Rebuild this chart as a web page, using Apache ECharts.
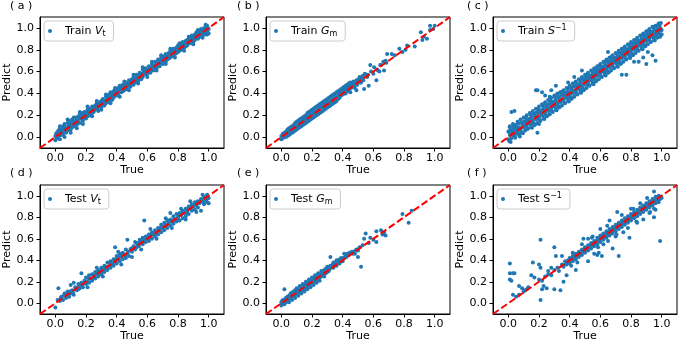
<!DOCTYPE html>
<html>
<head>
<meta charset="utf-8">
<script src="https://cdn.jsdelivr.net/npm/echarts@6/dist/echarts.min.js"></script>
<style>
  html, body { margin: 0; padding: 0; background: #fff; }
  #chart { width: 685px; height: 343px; }
</style>
</head>
<body>
<div id="chart"></div>
<script>
// read-off points: [true, predict]
const trainVt = [
  [0.00,0.01],[0.00,-0.03],[0.01,0.04],[0.01,-0.01],[0.02,0.06],[0.02,0.01],[0.03,-0.02],[0.03,0.08],[0.04,0.03],[0.04,0.06],
  [0.05,0.10],[0.05,0.02],[0.06,0.05],[0.06,0.12],[0.07,0.04],[0.07,0.09],[0.08,0.13],[0.08,0.06],[0.09,0.10],[0.09,0.15],
  [0.10,0.07],[0.10,0.12],[0.11,0.16],[0.11,0.09],[0.12,0.14],[0.12,0.10],[0.13,0.18],[0.13,0.12],[0.14,0.15],[0.14,0.11],
  [0.15,0.19],[0.15,0.14],[0.16,0.22],[0.16,0.13],[0.17,0.17],[0.17,0.20],[0.18,0.15],[0.18,0.22],[0.19,0.18],[0.19,0.23],
  [0.20,0.17],[0.20,0.21],[0.21,0.25],[0.21,0.19],[0.22,0.22],[0.22,0.26],[0.23,0.20],[0.23,0.24],[0.24,0.28],[0.24,0.22],
  [0.25,0.26],[0.25,0.23],[0.26,0.29],[0.26,0.25],[0.27,0.31],[0.27,0.26],[0.28,0.29],[0.28,0.24],[0.29,0.32],[0.29,0.28],
  [0.30,0.33],[0.30,0.27],[0.31,0.30],[0.31,0.35],[0.32,0.29],[0.32,0.33],[0.33,0.37],[0.33,0.31],[0.34,0.35],[0.34,0.32],
  [0.35,0.39],[0.35,0.34],[0.36,0.37],[0.36,0.41],[0.37,0.34],[0.37,0.38],[0.38,0.42],[0.38,0.36],[0.39,0.40],[0.39,0.44],
  [0.40,0.38],[0.40,0.42],[0.41,0.45],[0.41,0.39],[0.42,0.43],[0.42,0.47],[0.43,0.41],[0.43,0.45],[0.44,0.48],[0.44,0.42],
  [0.45,0.46],[0.45,0.43],[0.46,0.50],[0.46,0.45],[0.47,0.49],[0.47,0.44],[0.48,0.52],[0.48,0.47],[0.49,0.50],[0.49,0.46],
  [0.50,0.53],[0.50,0.49],[0.51,0.55],[0.51,0.48],[0.52,0.53],[0.52,0.50],[0.53,0.57],[0.53,0.52],[0.54,0.55],[0.54,0.51],
  [0.55,0.59],[0.55,0.54],[0.56,0.58],[0.56,0.53],[0.57,0.64],[0.57,0.55],[0.58,0.60],[0.58,0.62],[0.59,0.57],[0.59,0.63],
  [0.60,0.61],[0.60,0.58],[0.61,0.65],[0.61,0.60],[0.62,0.63],[0.62,0.59],[0.63,0.67],[0.63,0.62],[0.64,0.65],[0.64,0.61],
  [0.65,0.69],[0.65,0.64],[0.66,0.67],[0.66,0.63],[0.67,0.71],[0.67,0.66],[0.68,0.69],[0.68,0.65],[0.69,0.73],[0.69,0.68],
  [0.70,0.71],[0.70,0.67],[0.71,0.74],[0.71,0.70],[0.72,0.76],[0.72,0.69],[0.73,0.74],[0.73,0.71],[0.74,0.77],[0.74,0.72],
  [0.75,0.79],[0.75,0.73],[0.76,0.77],[0.76,0.74],[0.77,0.81],[0.77,0.75],[0.78,0.79],[0.78,0.76],[0.79,0.82],[0.79,0.77],
  [0.80,0.84],[0.80,0.78],[0.81,0.82],[0.81,0.79],[0.82,0.85],[0.82,0.80],[0.83,0.87],[0.83,0.81],[0.84,0.85],[0.84,0.82],
  [0.85,0.88],[0.85,0.83],[0.86,0.89],[0.86,0.84],[0.87,0.86],[0.87,0.90],[0.88,0.92],[0.88,0.86],[0.89,0.88],[0.89,0.93],
  [0.90,0.87],[0.90,0.91],[0.91,0.94],[0.91,0.89],[0.92,0.91],[0.92,0.96],[0.93,0.90],[0.93,0.94],[0.94,0.97],[0.94,0.92],
  [0.95,0.95],[0.95,0.99],[0.96,0.93],[0.96,0.97],[0.97,1.00],[0.97,0.95],[0.98,0.98],[0.98,0.94],[0.99,1.02],[0.99,0.97],
  [1.00,0.99],[1.00,0.95]
];
const trainVtCore = [
  [0.005,0.03],[0.015,0.00],[0.025,0.05],[0.035,0.02],[0.045,0.04],[0.055,0.08],[0.065,0.07],[0.075,0.06],[0.085,0.10],[0.095,0.09],
  [0.105,0.13],[0.115,0.12],[0.125,0.11],[0.135,0.15],[0.145,0.13],[0.155,0.17],[0.165,0.18],[0.175,0.16],[0.185,0.20],[0.195,0.19],
  [0.205,0.23],[0.215,0.21],[0.225,0.20],[0.235,0.25],[0.245,0.24],[0.255,0.27],[0.265,0.28],[0.275,0.26],[0.285,0.30],[0.295,0.29],
  [0.305,0.31],[0.315,0.33],[0.325,0.31],[0.335,0.34],[0.345,0.37],[0.355,0.36],[0.365,0.35],[0.375,0.39],[0.385,0.40],[0.395,0.38],
  [0.405,0.40],[0.415,0.43],[0.425,0.44],[0.435,0.42],[0.445,0.46],[0.455,0.47],[0.465,0.44],[0.475,0.48],[0.485,0.50],[0.495,0.49],
  [0.505,0.51],[0.515,0.52],[0.525,0.54],[0.535,0.53],[0.545,0.56],[0.555,0.57],[0.565,0.56],[0.575,0.59],[0.585,0.60],[0.595,0.60],
  [0.605,0.62],[0.615,0.62],[0.625,0.61],[0.635,0.65],[0.645,0.63],[0.655,0.66],[0.665,0.68],[0.675,0.67],[0.685,0.70],[0.695,0.70],
  [0.705,0.72],[0.715,0.73],[0.725,0.71],[0.735,0.75],[0.745,0.75],[0.755,0.76],[0.765,0.78],[0.775,0.78],[0.785,0.77],[0.795,0.80],
  [0.805,0.81],[0.815,0.80],[0.825,0.83],[0.835,0.84],[0.845,0.86],[0.855,0.85],[0.865,0.87],[0.875,0.88],[0.885,0.90],[0.895,0.89],
  [0.905,0.92],[0.915,0.93],[0.925,0.92],[0.935,0.95],[0.945,0.95],[0.955,0.96],[0.965,0.98],[0.975,0.97],[0.985,0.99],[0.995,1.00]
];
const trainVtEdge = [
  [0.03,0.10],[0.06,0.00],[0.08,0.16],[0.10,0.04],[0.12,0.18],[0.14,0.08],[0.16,0.23],[0.18,0.12],[0.21,0.28],[0.24,0.19],
  [0.27,0.33],[0.30,0.25],[0.33,0.39],[0.36,0.31],[0.39,0.45],[0.42,0.37],[0.45,0.51],[0.48,0.43],[0.51,0.57],[0.54,0.49],
  [0.57,0.62],[0.60,0.55],[0.63,0.69],[0.66,0.61],[0.69,0.75],[0.72,0.67],[0.75,0.81],[0.78,0.73],[0.81,0.86],[0.84,0.79],
  [0.87,0.92],[0.90,0.85],[0.93,0.98],[0.96,0.91],[0.99,0.94],[0.98,1.03]
];

const trainGm = [
  [0.00,0.01],[0.00,-0.02],[0.01,0.03],[0.01,0.00],[0.01,-0.01],[0.02,0.04],[0.02,0.01],[0.02,0.02],[0.03,0.05],[0.03,0.00],
  [0.03,0.03],[0.04,0.07],[0.04,0.01],[0.04,0.04],[0.05,0.08],[0.05,0.02],[0.05,0.05],[0.06,0.09],[0.06,0.03],[0.06,0.06],
  [0.07,0.10],[0.07,0.04],[0.07,0.07],[0.08,0.11],[0.08,0.05],[0.08,0.08],[0.09,0.13],[0.09,0.06],[0.09,0.09],[0.10,0.14],
  [0.10,0.07],[0.10,0.10],[0.11,0.15],[0.11,0.08],[0.11,0.11],[0.12,0.16],[0.12,0.09],[0.12,0.13],[0.13,0.17],[0.13,0.10],
  [0.13,0.14],[0.14,0.18],[0.14,0.11],[0.14,0.15],[0.15,0.19],[0.15,0.12],[0.15,0.16],[0.16,0.20],[0.16,0.13],[0.16,0.17],
  [0.17,0.22],[0.17,0.14],[0.17,0.18],[0.18,0.23],[0.18,0.15],[0.18,0.19],[0.19,0.24],[0.19,0.16],[0.19,0.20],[0.20,0.25],
  [0.20,0.17],[0.20,0.21],[0.21,0.26],[0.21,0.18],[0.21,0.22],[0.22,0.27],[0.22,0.19],[0.22,0.23],[0.23,0.28],[0.23,0.20],
  [0.23,0.24],[0.24,0.29],[0.24,0.21],[0.24,0.25],[0.25,0.30],[0.25,0.22],[0.25,0.26],[0.26,0.31],[0.26,0.23],[0.26,0.27],
  [0.27,0.32],[0.27,0.24],[0.27,0.28],[0.28,0.33],[0.28,0.25],[0.28,0.29],[0.29,0.34],[0.29,0.26],[0.29,0.30],[0.30,0.35],
  [0.30,0.27],[0.30,0.31],[0.31,0.36],[0.31,0.28],[0.31,0.32],[0.32,0.37],[0.32,0.29],[0.32,0.33],[0.33,0.38],[0.33,0.30],
  [0.33,0.34],[0.34,0.39],[0.34,0.31],[0.34,0.35],[0.35,0.40],[0.35,0.32],[0.35,0.36],[0.36,0.41],[0.36,0.33],[0.36,0.37],
  [0.37,0.42],[0.37,0.35],[0.38,0.43],[0.38,0.36],[0.39,0.44],[0.39,0.38],[0.40,0.45],[0.40,0.39],[0.41,0.46],[0.41,0.40],
  [0.42,0.47],[0.42,0.40],[0.43,0.48],[0.43,0.42],[0.44,0.49],[0.44,0.43],[0.45,0.50],[0.45,0.41],[0.46,0.47],[0.47,0.51],
  [0.48,0.45],[0.49,0.52],[0.49,0.43],[0.50,0.51],[0.51,0.55],[0.52,0.50],[0.53,0.56],[0.54,0.44],[0.55,0.57],[0.56,0.55],
  [0.57,0.47],[0.58,0.66],[0.60,0.58],[0.62,0.52],[0.63,0.61],[0.64,0.60],[0.65,0.66],[0.67,0.61],[0.68,0.70],[0.69,0.76],
  [0.72,0.76],[0.74,0.75],[0.77,0.81],[0.79,0.78],[0.81,0.80],[0.82,0.84],[0.87,0.83],[0.91,0.96],[0.92,0.89],[0.93,0.92],
  [0.95,0.90],[0.97,0.98],[0.97,1.02],[1.00,1.02],[0.99,0.99]
];
const trainGmTail = [
  [0.375,0.39],[0.385,0.40],[0.395,0.41],[0.405,0.42],[0.415,0.43],[0.425,0.44],[0.435,0.45],[0.445,0.46],[0.455,0.45],[0.465,0.49],
  [0.475,0.47],[0.485,0.50],[0.495,0.48],[0.505,0.53],[0.515,0.50],[0.525,0.54],[0.535,0.52],[0.545,0.58],[0.565,0.57],[0.585,0.60],
  [0.605,0.64],[0.625,0.62],[0.645,0.66],[0.665,0.69],[0.685,0.68]
];

const trainS = [
  [0.00,0.05],[0.00,-0.02],[0.01,0.10],[0.01,0.02],[0.02,0.06],[0.02,-0.01],[0.03,0.12],[0.03,0.04],[0.04,0.08],[0.04,0.01],
  [0.05,0.11],[0.05,0.03],[0.06,0.14],[0.06,0.06],[0.07,0.09],[0.07,0.02],[0.08,0.16],[0.08,0.07],[0.09,0.12],[0.09,0.04],
  [0.10,0.18],[0.10,0.09],[0.11,0.14],[0.11,0.06],[0.12,0.20],[0.12,0.11],[0.13,0.16],[0.13,0.08],[0.14,0.22],[0.14,0.13],
  [0.15,0.18],[0.15,0.09],[0.16,0.24],[0.16,0.14],[0.17,0.20],[0.17,0.11],[0.18,0.26],[0.18,0.16],[0.19,0.22],[0.19,0.13],
  [0.20,0.28],[0.20,0.18],[0.21,0.24],[0.21,0.15],[0.22,0.30],[0.22,0.20],[0.23,0.26],[0.23,0.17],[0.24,0.32],[0.24,0.22],
  [0.25,0.28],[0.25,0.19],[0.26,0.34],[0.26,0.24],[0.27,0.30],[0.27,0.21],[0.28,0.36],[0.28,0.26],[0.29,0.32],[0.29,0.23],
  [0.30,0.38],[0.30,0.28],[0.31,0.34],[0.31,0.25],[0.32,0.40],[0.32,0.30],[0.33,0.36],[0.33,0.27],[0.34,0.41],[0.34,0.32],
  [0.35,0.38],[0.35,0.29],[0.36,0.43],[0.36,0.34],[0.37,0.40],[0.37,0.31],[0.38,0.45],[0.38,0.36],[0.39,0.42],[0.39,0.33],
  [0.40,0.47],[0.40,0.38],[0.41,0.44],[0.41,0.35],[0.42,0.49],[0.42,0.40],[0.43,0.46],[0.43,0.37],[0.44,0.51],[0.44,0.42],
  [0.45,0.48],[0.45,0.39],[0.46,0.53],[0.46,0.44],[0.47,0.50],[0.47,0.41],[0.48,0.55],[0.48,0.46],[0.49,0.52],[0.49,0.43],
  [0.50,0.57],[0.50,0.48],[0.50,0.52],[0.51,0.54],[0.51,0.45],[0.52,0.59],[0.52,0.50],[0.52,0.53],[0.53,0.56],[0.53,0.47],
  [0.54,0.61],[0.54,0.52],[0.54,0.55],[0.55,0.58],[0.55,0.49],[0.56,0.63],[0.56,0.54],[0.56,0.57],[0.57,0.60],[0.57,0.51],
  [0.58,0.65],[0.58,0.56],[0.58,0.59],[0.59,0.62],[0.59,0.53],[0.60,0.67],[0.60,0.58],[0.60,0.61],[0.61,0.64],[0.61,0.55],
  [0.62,0.69],[0.62,0.60],[0.62,0.63],[0.63,0.66],[0.63,0.57],[0.64,0.71],[0.64,0.62],[0.64,0.65],[0.65,0.68],[0.65,0.59],
  [0.66,0.73],[0.66,0.64],[0.66,0.67],[0.67,0.70],[0.67,0.61],[0.68,0.75],[0.68,0.66],[0.68,0.69],[0.69,0.72],[0.69,0.63],
  [0.70,0.77],[0.70,0.68],[0.70,0.71],[0.71,0.74],[0.71,0.65],[0.72,0.79],[0.72,0.70],[0.72,0.73],[0.73,0.76],[0.73,0.67],
  [0.74,0.81],[0.74,0.72],[0.74,0.75],[0.75,0.78],[0.75,0.69],[0.76,0.83],[0.76,0.74],[0.76,0.77],[0.77,0.80],[0.77,0.71],
  [0.78,0.85],[0.78,0.76],[0.78,0.79],[0.79,0.82],[0.79,0.73],[0.80,0.87],[0.80,0.78],[0.80,0.81],[0.81,0.84],[0.81,0.75],
  [0.82,0.89],[0.82,0.80],[0.82,0.83],[0.83,0.86],[0.83,0.77],[0.84,0.91],[0.84,0.82],[0.84,0.85],[0.85,0.88],[0.85,0.79],
  [0.86,0.93],[0.86,0.84],[0.86,0.87],[0.87,0.90],[0.87,0.81],[0.88,0.95],[0.88,0.86],[0.88,0.89],[0.89,0.92],[0.89,0.83],
  [0.90,0.97],[0.90,0.88],[0.90,0.91],[0.91,0.94],[0.91,0.85],[0.92,0.99],[0.92,0.90],[0.92,0.93],[0.93,0.96],[0.93,0.87],
  [0.94,1.01],[0.94,0.92],[0.94,0.95],[0.95,0.98],[0.95,0.89],[0.96,1.02],[0.96,0.93],[0.96,0.96],[0.97,0.99],[0.97,0.91],
  [0.98,1.04],[0.98,0.95],[0.98,0.97],[0.99,1.00],[0.99,0.92],[1.00,0.98],[1.00,0.94],
  [0.04,0.24],[0.02,0.23],[0.01,0.09],[0.19,0.04],[0.20,0.12],[0.11,0.11],[0.18,0.43],[0.19,0.43],[0.22,0.41],[0.24,0.38],
  [0.27,0.37],[0.28,0.43],[0.31,0.47],[0.34,0.41],[0.39,0.50],[0.43,0.55],[0.48,0.61],[0.65,0.78],[0.74,0.57],[0.77,0.57],
  [0.82,0.69],[0.85,0.69],[0.88,0.73],[0.90,0.67],[0.91,0.78],[0.94,0.75],[0.96,0.70]
];
const trainSCore = [
  [0.005,0.055],[0.005,-0.035],[0.015,0.025],[0.015,-0.045],[0.025,0.065],[0.025,0.025],[0.035,0.015],[0.035,0.095],[0.045,0.065],[0.045,-0.005],
  [0.055,0.045],[0.055,0.085],[0.065,0.125],[0.065,0.035],[0.075,0.075],[0.075,0.005],[0.085,0.135],[0.085,0.045],[0.095,0.105],[0.095,0.035],
  [0.105,0.145],[0.105,0.105],[0.115,0.095],[0.115,0.175],[0.125,0.145],[0.125,0.075],[0.135,0.125],[0.135,0.165],[0.145,0.205],[0.145,0.115],
  [0.155,0.155],[0.155,0.085],[0.165,0.215],[0.165,0.125],[0.175,0.185],[0.175,0.115],[0.185,0.225],[0.185,0.185],[0.195,0.175],[0.195,0.255],
  [0.205,0.225],[0.205,0.155],[0.215,0.205],[0.215,0.245],[0.225,0.285],[0.225,0.195],[0.235,0.235],[0.235,0.165],[0.245,0.295],[0.245,0.205],
  [0.255,0.265],[0.255,0.195],[0.265,0.305],[0.265,0.265],[0.275,0.255],[0.275,0.335],[0.285,0.305],[0.285,0.235],[0.295,0.285],[0.295,0.325],
  [0.305,0.365],[0.305,0.275],[0.315,0.315],[0.315,0.245],[0.325,0.375],[0.325,0.285],[0.335,0.345],[0.335,0.275],[0.345,0.385],[0.345,0.345],
  [0.355,0.335],[0.355,0.415],[0.365,0.385],[0.365,0.315],[0.375,0.365],[0.375,0.405],[0.385,0.445],[0.385,0.355],[0.395,0.395],[0.395,0.325],
  [0.405,0.455],[0.405,0.365],[0.415,0.425],[0.415,0.355],[0.425,0.465],[0.425,0.425],[0.435,0.415],[0.435,0.495],[0.445,0.465],[0.445,0.395],
  [0.455,0.445],[0.455,0.485],[0.465,0.525],[0.465,0.435],[0.475,0.475],[0.475,0.405],[0.485,0.535],[0.485,0.445],[0.495,0.505],[0.495,0.435],
  [0.505,0.545],[0.505,0.505],[0.515,0.495],[0.515,0.575],[0.525,0.545],[0.525,0.475],[0.535,0.525],[0.535,0.565],[0.545,0.605],[0.545,0.515],
  [0.555,0.555],[0.555,0.485],[0.565,0.615],[0.565,0.525],[0.575,0.585],[0.575,0.515],[0.585,0.625],[0.585,0.585],[0.595,0.575],[0.595,0.655],
  [0.605,0.625],[0.605,0.555],[0.615,0.605],[0.615,0.645],[0.625,0.685],[0.625,0.595],[0.635,0.635],[0.635,0.565],[0.645,0.695],[0.645,0.605],
  [0.655,0.665],[0.655,0.595],[0.665,0.705],[0.665,0.665],[0.675,0.655],[0.675,0.735],[0.685,0.705],[0.685,0.635],[0.695,0.685],[0.695,0.725],
  [0.705,0.765],[0.705,0.675],[0.715,0.715],[0.715,0.645],[0.725,0.775],[0.725,0.685],[0.735,0.745],[0.735,0.675],[0.745,0.785],[0.745,0.745],
  [0.755,0.735],[0.755,0.815],[0.765,0.785],[0.765,0.715],[0.775,0.765],[0.775,0.805],[0.785,0.845],[0.785,0.755],[0.795,0.795],[0.795,0.725],
  [0.805,0.855],[0.805,0.765],[0.815,0.825],[0.815,0.755],[0.825,0.865],[0.825,0.825],[0.835,0.815],[0.835,0.895],[0.845,0.865],[0.845,0.795],
  [0.855,0.845],[0.855,0.885],[0.865,0.925],[0.865,0.835],[0.875,0.875],[0.875,0.805],[0.885,0.935],[0.885,0.845],[0.895,0.905],[0.895,0.835],
  [0.905,0.945],[0.905,0.905],[0.915,0.895],[0.915,0.975],[0.925,0.945],[0.925,0.875],[0.935,0.925],[0.935,0.965],[0.945,1.005],[0.945,0.915],
  [0.955,0.955],[0.955,0.885],[0.965,1.015],[0.965,0.925],[0.975,0.985],[0.975,0.915],[0.985,1.025],[0.985,0.985],[0.995,0.975],[0.995,1.045]
];

const testVt = [
  [0.00,-0.04],[0.02,0.14],[0.03,0.02],[0.04,0.06],[0.05,0.03],[0.06,0.09],[0.07,0.05],[0.08,0.11],[0.09,0.06],[0.10,0.17],
  [0.10,0.09],[0.11,0.12],[0.12,0.08],[0.13,0.15],[0.14,0.12],[0.15,0.18],[0.15,0.13],[0.16,0.14],[0.17,0.28],[0.17,0.19],
  [0.18,0.15],[0.19,0.21],[0.20,0.18],[0.20,0.24],[0.21,0.20],[0.22,0.26],[0.22,0.19],[0.23,0.23],[0.24,0.27],[0.24,0.21],
  [0.25,0.24],[0.26,0.29],[0.26,0.23],[0.27,0.27],[0.28,0.31],[0.28,0.25],[0.29,0.28],[0.30,0.33],[0.30,0.27],[0.31,0.30],
  [0.32,0.35],[0.32,0.29],[0.33,0.32],[0.34,0.38],[0.34,0.31],[0.35,0.34],[0.36,0.39],[0.36,0.33],[0.37,0.36],[0.38,0.41],
  [0.38,0.35],[0.39,0.52],[0.39,0.39],[0.40,0.44],[0.40,0.37],[0.41,0.41],[0.42,0.46],[0.42,0.39],[0.43,0.43],[0.44,0.47],
  [0.44,0.41],[0.45,0.45],[0.46,0.50],[0.46,0.42],[0.47,0.59],[0.47,0.46],[0.48,0.44],[0.49,0.50],[0.50,0.43],[0.50,0.48],
  [0.51,0.53],[0.52,0.50],[0.53,0.56],[0.53,0.52],[0.54,0.55],[0.55,0.57],[0.55,0.59],[0.56,0.56],[0.57,0.61],[0.57,0.55],
  [0.58,0.77],[0.58,0.58],[0.59,0.62],[0.59,0.57],[0.60,0.61],[0.61,0.64],[0.61,0.58],[0.62,0.62],[0.63,0.66],[0.63,0.60],
  [0.64,0.64],[0.65,0.68],[0.65,0.62],[0.66,0.66],[0.67,0.70],[0.67,0.64],[0.68,0.68],[0.69,0.73],[0.69,0.66],[0.70,0.70],
  [0.71,0.75],[0.71,0.68],[0.72,0.72],[0.73,0.77],[0.73,0.70],[0.74,0.74],[0.75,0.84],[0.75,0.78],[0.75,0.72],[0.76,0.76],
  [0.77,0.81],[0.77,0.74],[0.78,0.78],[0.79,0.83],[0.79,0.76],[0.80,0.80],[0.81,0.84],[0.81,0.77],[0.82,0.82],[0.83,0.86],
  [0.83,0.79],[0.84,0.84],[0.85,0.88],[0.85,0.81],[0.86,0.84],[0.86,0.86],[0.87,0.90],[0.87,0.83],[0.88,0.88],[0.89,0.92],
  [0.89,0.86],[0.90,0.90],[0.91,0.94],[0.91,0.87],[0.92,0.92],[0.93,0.95],[0.93,0.89],[0.94,0.93],[0.95,0.97],[0.95,0.86],
  [0.96,0.95],[0.97,0.99],[0.97,0.92],[0.98,0.97],[0.99,1.01],[0.99,0.94],[1.00,0.93],[1.00,0.98]
];
const testVtCore = [
  [0.015,0.03],[0.035,0.05],[0.055,0.07],[0.075,0.08],[0.095,0.11],[0.115,0.10],[0.135,0.13],[0.155,0.16],[0.175,0.17],[0.195,0.19],
  [0.215,0.23],[0.235,0.22],[0.255,0.26],[0.275,0.29],[0.295,0.30],[0.315,0.32],[0.335,0.34],[0.355,0.37],[0.375,0.37],[0.395,0.41],
  [0.415,0.43],[0.435,0.45],[0.455,0.44],[0.475,0.48],[0.495,0.51],[0.515,0.51],[0.535,0.55],[0.545,0.53],[0.565,0.58],[0.575,0.57],
  [0.585,0.60],[0.605,0.60],[0.615,0.63],[0.625,0.64],[0.645,0.65],[0.655,0.66],[0.675,0.68],[0.685,0.70],[0.705,0.71],[0.715,0.72],
  [0.735,0.74],[0.745,0.76],[0.765,0.77],[0.775,0.78],[0.795,0.79],[0.805,0.82],[0.825,0.83],[0.835,0.85],[0.855,0.86],[0.865,0.88],
  [0.885,0.89],[0.895,0.91],[0.915,0.91],[0.925,0.94],[0.945,0.95],[0.955,0.96],[0.965,0.94],[0.975,0.98],[0.985,0.96],[0.995,0.98],
  [0.12,0.19],[0.21,0.15],[0.27,0.33],[0.31,0.25],[0.41,0.48],[0.43,0.36],[0.52,0.57],[0.56,0.50],[0.62,0.69],[0.66,0.60],
  [0.72,0.79],[0.76,0.70],[0.82,0.88],[0.85,0.78],[0.88,0.95],[0.92,0.85],[0.96,1.01]
];

const testGm = [
  [0.00,0.01],[0.00,-0.02],[0.01,0.03],[0.01,0.00],[0.02,0.13],[0.02,0.02],[0.02,-0.01],[0.03,0.05],[0.03,0.01],[0.04,0.06],
  [0.04,0.02],[0.05,0.07],[0.05,0.04],[0.05,0.01],[0.06,0.09],[0.06,0.05],[0.07,0.10],[0.07,0.06],[0.07,0.03],[0.08,0.11],
  [0.08,0.07],[0.09,0.12],[0.09,0.08],[0.09,0.05],[0.10,0.14],[0.10,0.09],[0.11,0.13],[0.11,0.10],[0.11,0.07],[0.12,0.16],
  [0.12,0.11],[0.13,0.15],[0.13,0.12],[0.13,0.09],[0.14,0.18],[0.14,0.13],[0.15,0.17],[0.15,0.14],[0.15,0.11],[0.16,0.20],
  [0.16,0.15],[0.17,0.19],[0.17,0.16],[0.17,0.13],[0.18,0.22],[0.18,0.17],[0.19,0.21],[0.19,0.18],[0.19,0.15],[0.20,0.24],
  [0.20,0.19],[0.21,0.23],[0.21,0.20],[0.21,0.17],[0.22,0.26],[0.22,0.21],[0.23,0.25],[0.23,0.22],[0.23,0.19],[0.24,0.28],
  [0.24,0.23],[0.25,0.27],[0.25,0.24],[0.25,0.21],[0.26,0.30],[0.26,0.25],[0.27,0.29],[0.27,0.26],[0.28,0.31],[0.28,0.25],
  [0.29,0.32],[0.29,0.28],[0.30,0.34],[0.30,0.29],[0.31,0.33],[0.31,0.30],[0.32,0.43],[0.32,0.35],[0.33,0.34],[0.34,0.38],
  [0.34,0.33],[0.35,0.37],[0.36,0.40],[0.36,0.35],[0.37,0.39],[0.38,0.41],[0.38,0.37],[0.39,0.42],[0.40,0.39],[0.41,0.46],
  [0.41,0.42],[0.42,0.44],[0.43,0.46],[0.44,0.45],[0.45,0.47],[0.46,0.48],[0.47,0.48],[0.48,0.46],[0.49,0.50],[0.50,0.43],
  [0.50,0.49],[0.51,0.52],[0.52,0.34],[0.53,0.54],[0.54,0.60],[0.55,0.65],[0.57,0.56],[0.58,0.61],[0.60,0.59],[0.62,0.57],
  [0.62,0.67],[0.65,0.68],[0.66,0.64],[0.67,0.66],[0.68,0.63],[0.79,0.83],[0.83,0.75],[0.85,0.86]
];
const testGmCore = [
  [0.005,0.02],[0.015,0.01],[0.025,0.04],[0.035,0.03],[0.045,0.04],[0.055,0.06],[0.065,0.07],[0.075,0.08],[0.085,0.09],[0.095,0.10],
  [0.105,0.11],[0.115,0.13],[0.125,0.13],[0.135,0.14],[0.145,0.15],[0.155,0.16],[0.165,0.18],[0.175,0.17],[0.185,0.20],[0.195,0.20],
  [0.205,0.21],[0.215,0.22],[0.225,0.24],[0.235,0.23],[0.245,0.26],[0.255,0.26],[0.265,0.28],[0.275,0.28],[0.285,0.29],[0.295,0.31],
  [0.305,0.32],[0.315,0.32],[0.325,0.33],[0.335,0.36],[0.345,0.36],[0.355,0.38],[0.365,0.37],[0.385,0.39],[0.405,0.42],[0.425,0.43],
  [0.445,0.47],[0.465,0.46],[0.485,0.49]
];

const testS = [
  [0.01,0.37],[0.01,0.28],[0.03,0.28],[0.04,0.28],[0.01,0.22],[0.02,0.21],[0.03,0.08],[0.05,0.06],[0.07,0.16],[0.09,0.14],
  [0.07,0.08],[0.10,0.11],[0.11,0.12],[0.12,0.13],[0.13,0.15],[0.15,0.26],[0.17,0.24],[0.16,0.38],[0.20,0.36],[0.21,0.33],
  [0.21,0.03],[0.21,0.59],[0.22,0.13],[0.23,0.16],[0.25,0.14],[0.26,0.30],[0.28,0.33],[0.30,0.13],[0.31,0.44],[0.34,0.12],
  [0.35,0.44],[0.36,0.20],[0.38,0.26],[0.30,0.52],[0.41,0.35],[0.44,0.31],[0.49,0.60],[0.52,0.39],[0.59,0.47],[0.61,0.44],
  [0.56,0.46],[0.58,0.45],[0.68,0.51],[0.72,0.44],[0.79,0.61],[0.99,0.58],[0.95,0.80],[0.71,0.85],[0.95,1.04],
  [0.20,0.22],[0.22,0.21],[0.24,0.25],[0.26,0.27],[0.28,0.26],[0.30,0.31],[0.32,0.33],[0.33,0.30],[0.35,0.36],[0.36,0.34],
  [0.37,0.39],[0.38,0.36],[0.39,0.40],[0.40,0.37],[0.40,0.42],[0.41,0.40],[0.42,0.44],[0.42,0.39],[0.43,0.42],[0.44,0.46],
  [0.44,0.41],[0.45,0.44],[0.46,0.48],[0.46,0.43],[0.47,0.46],[0.48,0.50],[0.48,0.45],[0.49,0.48],[0.50,0.52],[0.50,0.47],
  [0.51,0.50],[0.52,0.54],[0.52,0.49],[0.53,0.52],[0.54,0.56],[0.54,0.51],[0.55,0.54],[0.56,0.58],[0.56,0.53],[0.57,0.56],
  [0.58,0.61],[0.58,0.55],[0.59,0.58],[0.60,0.63],[0.60,0.57],[0.61,0.60],[0.62,0.65],[0.62,0.59],[0.63,0.62],[0.64,0.67],
  [0.64,0.61],[0.65,0.64],[0.66,0.69],[0.66,0.63],[0.67,0.66],[0.68,0.71],[0.68,0.65],[0.69,0.68],[0.70,0.73],[0.70,0.67],
  [0.71,0.70],[0.72,0.75],[0.72,0.69],[0.73,0.72],[0.74,0.77],[0.74,0.71],[0.75,0.74],[0.76,0.79],[0.76,0.73],[0.77,0.76],
  [0.78,0.81],[0.78,0.75],[0.79,0.78],[0.80,0.83],[0.80,0.77],[0.81,0.80],[0.82,0.85],[0.82,0.79],[0.83,0.82],[0.84,0.87],
  [0.84,0.81],[0.85,0.84],[0.86,0.89],[0.86,0.83],[0.87,0.86],[0.88,0.91],[0.88,0.85],[0.89,0.88],[0.90,0.93],[0.90,0.87],
  [0.91,0.90],[0.92,0.95],[0.92,0.89],[0.93,0.92],[0.94,0.97],[0.94,0.91],[0.95,0.94],[0.96,0.99],[0.96,0.93],[0.97,0.96],
  [0.98,1.00],[0.98,0.94],[0.99,0.97],[1.00,0.98],
  [0.52,0.60],[0.55,0.62],[0.60,0.69],[0.62,0.55],[0.66,0.77],[0.70,0.62],[0.74,0.82],[0.75,0.66],[0.78,0.70],[0.80,0.88],
  [0.84,0.75],[0.86,0.93],[0.88,0.78],[0.92,0.84],[0.95,0.88],[0.96,0.87],[0.65,0.58],[0.48,0.55],[0.42,0.47],[0.45,0.38]
];
const testSCore = [
  [0.355,0.35],[0.375,0.37],[0.395,0.38],[0.405,0.41],[0.415,0.42],[0.425,0.41],[0.435,0.44],[0.445,0.45],[0.455,0.46],[0.465,0.46],
  [0.475,0.48],[0.485,0.49],[0.495,0.50],[0.505,0.51],[0.515,0.52],[0.525,0.52],[0.535,0.54],[0.545,0.55],[0.555,0.56],[0.565,0.56],
  [0.575,0.58],[0.585,0.59],[0.595,0.60],[0.605,0.61],[0.615,0.62],[0.625,0.63],[0.635,0.63],[0.645,0.65],[0.655,0.66],[0.665,0.67],
  [0.675,0.68],[0.685,0.68],[0.695,0.70],[0.705,0.71],[0.715,0.72],[0.725,0.73],[0.735,0.73],[0.745,0.75],[0.755,0.76],[0.765,0.77],
  [0.775,0.78],[0.785,0.78],[0.795,0.80],[0.805,0.81],[0.815,0.82],[0.825,0.83],[0.835,0.83],[0.845,0.85],[0.855,0.86],[0.865,0.87],
  [0.875,0.88],[0.885,0.88],[0.895,0.90],[0.905,0.91],[0.915,0.92],[0.925,0.93],[0.935,0.93],[0.945,0.95],[0.955,0.96],[0.965,0.97],
  [0.975,0.98],[0.985,0.97],[0.995,0.99],
  [0.645,0.72],[0.705,0.64],[0.815,0.88],[0.835,0.76],[0.905,0.98],[0.925,0.85],[0.585,0.52],[0.545,0.61]
];

const diagonal = [[-0.1, -0.1], [1.1, 1.1]];
const tickValues = [0, 0.2, 0.4, 0.6, 0.8, 1.0];

const panelData = [
  trainVt.concat(trainVtCore, trainVtEdge), trainGm.concat(trainGmTail), trainS.concat(trainSCore),
  testVt.concat(testVtCore), testGm.concat(testGmCore), testS.concat(testSCore)
];
const panelTags = ['( a )', '( b )', '( c )', '( d )', '( e )', '( f )'];
const seriesNames = ['Train Vt', 'Train Gm', 'Train S-1', 'Test Vt', 'Test Gm', 'Test S-1'];
const legendLabels = [
  'Train {i|V}{sub|t}', 'Train {i|G}{sub|m}', 'Train {i|S}{sup|\u22121}',
  'Test {i|V}{sub|t}', 'Test {i|G}{sub|m}', 'Test S{sup|\u22121}'
];

const FONT = 'DejaVu Sans';
const BLUE = '#1f77b4';
const colLeft = [40, 266, 493];
const rowTop = [17, 185];
const tagLeft = [10, 237, 467];
const W = 184, H = 131;

const grid = [], xAxis = [], yAxis = [], series = [], legend = [], title = [];

panelData.forEach((data, i) => {
  const col = i % 3, row = Math.floor(i / 3);
  const left = colLeft[col], top = rowTop[row];

  grid.push({
    left: left, top: top, width: W, height: H,
    show: true, borderColor: '#000', borderWidth: 1
  });

  const axisBase = {
    gridIndex: i,
    type: 'value',
    min: -0.1,
    max: 1.1,
    nameLocation: 'middle',
    nameTextStyle: { fontSize: 11, color: '#000', fontFamily: FONT },
    axisLine: { onZero: false, lineStyle: { color: '#000', width: 1 } },
    axisTick: { customValues: tickValues, length: 3.5, lineStyle: { color: '#000' } },
    axisLabel: {
      customValues: tickValues,
      formatter: v => v.toFixed(1),
      fontSize: 11, color: '#000', fontFamily: FONT
    },
    splitLine: { show: false }
  };
  xAxis.push(Object.assign({}, axisBase, {
    name: 'True', nameGap: 17,
    axisLabel: Object.assign({}, axisBase.axisLabel, { margin: 5 })
  }));
  yAxis.push(Object.assign({}, axisBase, {
    name: 'Predict', nameGap: 24,
    axisLabel: Object.assign({}, axisBase.axisLabel, { margin: 6 })
  }));

  series.push({
    name: seriesNames[i],
    type: 'scatter',
    xAxisIndex: i, yAxisIndex: i,
    data: data,
    symbolSize: 4,
    itemStyle: { color: BLUE, opacity: 1 },
    z: 2
  });
  series.push({
    type: 'line',
    xAxisIndex: i, yAxisIndex: i,
    data: diagonal,
    symbol: 'none',
    lineStyle: { color: '#ff0000', width: 2, type: [7, 3] },
    z: 3
  });

  legend.push({
    data: [seriesNames[i]],
    left: left + 4, top: top + 4,
    icon: 'circle',
    itemWidth: 20, itemHeight: 4,
    padding: [3, 8, 3, 4],
    borderColor: '#cccccc', borderWidth: 1, borderRadius: 3,
    backgroundColor: '#ffffff',
    selectedMode: false,
    formatter: () => legendLabels[i],
    textStyle: {
      fontSize: 11, color: '#000', fontFamily: FONT, lineHeight: 14,
      rich: {
        i: { fontSize: 11, fontStyle: 'italic', color: '#000', fontFamily: FONT, lineHeight: 14 },
        sub: { fontSize: 8, color: '#000', fontFamily: FONT, lineHeight: 8, verticalAlign: 'bottom' },
        sup: { fontSize: 8, color: '#000', fontFamily: FONT, lineHeight: 8, verticalAlign: 'top' }
      }
    }
  });

  title.push({
    text: panelTags[i],
    left: tagLeft[col], top: row === 0 ? 1 : 168,
    padding: 0,
    textStyle: { fontSize: 11, fontWeight: 'normal', color: '#000', fontFamily: FONT }
  });
});

const chart = echarts.init(document.getElementById('chart'));
chart.setOption({
  animation: false,
  textStyle: { fontFamily: FONT },
  title: title,
  legend: legend,
  grid: grid,
  xAxis: xAxis,
  yAxis: yAxis,
  series: series
});
</script>
</body>
</html>
